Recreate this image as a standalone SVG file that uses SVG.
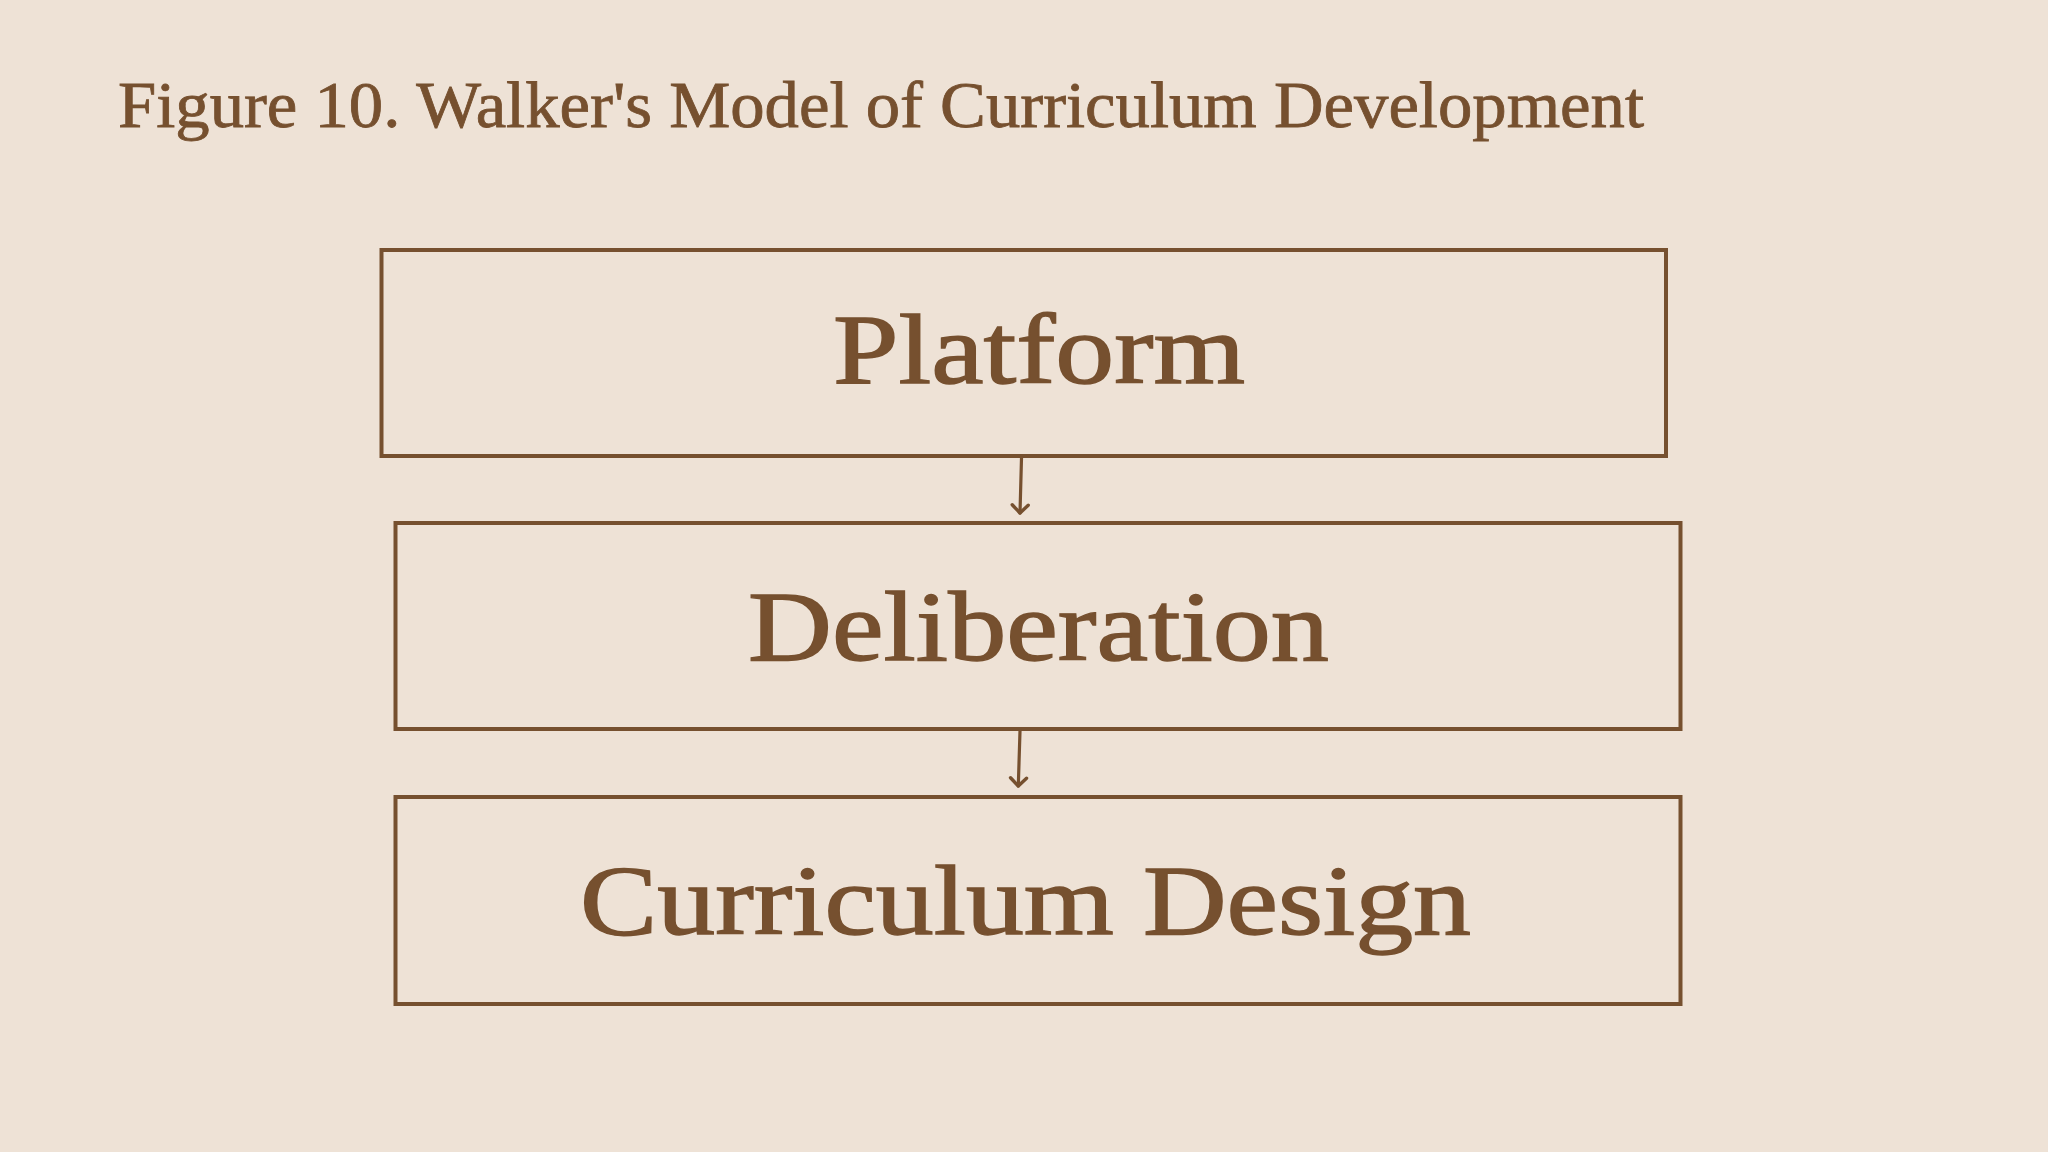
<svg xmlns="http://www.w3.org/2000/svg" width="2048" height="1152" viewBox="0 0 2048 1152">
<style>
.box{fill:none;stroke:#76502f;stroke-width:4}
.lbl{font-family:"Liberation Serif","Times New Roman",serif;fill:#76502f;stroke:#76502f;stroke-width:1.4;font-size:100px}
.ttl{font-family:"Liberation Serif","Times New Roman",serif;fill:#76502f;stroke:#76502f;stroke-width:0.8;font-size:66px}
.con{fill:none;stroke:#76502f;stroke-width:3.2;stroke-linecap:round}
</style>
<defs>
<marker id="ah" markerUnits="userSpaceOnUse" viewBox="-12 -12 24 24" markerWidth="24" markerHeight="24" refX="0" refY="0" orient="auto">
<path d="M-8,-8 L0,0 L-8,8" fill="none" stroke="#76502f" stroke-width="3.4" stroke-linecap="round" stroke-linejoin="round"/>
</marker>
</defs>
<rect width="2048" height="1152" fill="#eee2d6"/>
<g id="title">
<text class="ttl" x="118" y="127" textLength="1526" lengthAdjust="spacingAndGlyphs">Figure 10. Walker's Model of Curriculum Development</text>
</g>
<g id="platform">
<rect class="box" x="381.5" y="250" width="1284.5" height="206"/>
<text class="lbl" x="833" y="383" textLength="412" lengthAdjust="spacingAndGlyphs">Platform</text>
</g>
<g id="deliberation">
<rect class="box" x="395.5" y="523" width="1285" height="206"/>
<text class="lbl" x="748" y="660" textLength="581" lengthAdjust="spacingAndGlyphs">Deliberation</text>
</g>
<g id="curriculum-design">
<rect class="box" x="395.5" y="797" width="1285" height="207"/>
<text class="lbl" x="580" y="934" textLength="891" lengthAdjust="spacingAndGlyphs">Curriculum Design</text>
</g>
<g id="connectors">
<path class="con" d="M1021.5,458 L1020,513" marker-end="url(#ah)"/>
<path class="con" d="M1020,731 L1018.3,786" marker-end="url(#ah)"/>
</g>
</svg>
